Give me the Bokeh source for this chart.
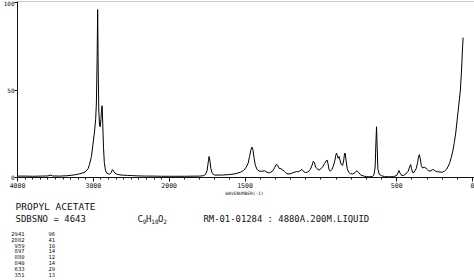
import numpy as np
from bokeh.plotting import figure
from bokeh.layouts import column
from bokeh.models import Range1d, FixedTicker, Span
from bokeh.core.properties import value
from bokeh.embed import file_html
from bokeh.resources import INLINE

# ---------------- data ----------------
wavenumber = [4000, 3900, 3800, 3700, 3600, 3560, 3540, 3450, 3350, 3250, 3200, 3150,
              3110, 3070, 3050, 3025, 3005, 2985, 2970, 2960, 2950, 2943, 2936, 2928,
              2918, 2910, 2900, 2890, 2884, 2876, 2866, 2855, 2840, 2825, 2805, 2785,
              2765, 2748, 2735, 2715, 2690, 2650, 2600, 2550, 2500, 2450, 2400, 2300,
              2200, 2100, 2000,
              1900, 1800, 1775, 1760, 1750, 1742, 1737, 1732, 1725, 1715, 1700, 1650,
              1600, 1560, 1530, 1510, 1495, 1480, 1470, 1462, 1455, 1448, 1440, 1432,
              1420, 1405, 1385, 1370, 1355, 1340, 1320, 1305, 1295, 1285, 1275, 1262,
              1252, 1240, 1225, 1210, 1195, 1175, 1160, 1150, 1135, 1125, 1115, 1100,
              1085, 1070, 1058, 1050, 1042, 1035, 1025, 1012, 1000, 985, 975, 965,
              959, 953, 946, 938, 928, 918, 908, 902, 897, 891, 886, 880, 874, 866,
              856, 849, 844, 840, 834, 826, 816, 805, 790, 775, 762, 752, 740, 720,
              700, 680, 660, 650, 642, 637, 633, 629, 624, 615, 600, 580, 550, 520,
              500, 490, 485, 478, 468, 455, 440, 425, 415, 408, 402, 395, 385, 372,
              362, 356, 351, 345, 338, 330, 318, 308, 298, 288, 275, 262, 255, 245,
              230, 215, 200, 185, 170, 160, 150, 140, 130, 120, 110, 100, 90, 80,
              72, 66, 62]
intensity = [0.8, 0.8, 0.7, 0.8, 0.9, 1.4, 0.9, 0.8, 1.0, 1.5, 1.9, 2.5,
             3.0, 5.0, 7.5, 12.0, 19.0, 26.0, 33.0, 42.0, 68.0, 96.0, 62.0, 38.0,
             30.0, 29.0, 33.0, 40.0, 41.0, 31.0, 17.0, 8.5, 4.2, 2.6, 2.1, 2.0,
             2.8, 4.5, 3.8, 2.5, 1.9, 1.5, 1.3, 1.2, 1.1, 1.0, 0.9, 0.8,
             0.8, 0.7, 0.7,
             0.7, 0.8, 1.0, 1.8, 4.0, 9.0, 12.0, 10.0, 5.0, 2.2, 1.4, 1.4,
             1.7, 2.2, 3.0, 4.0, 5.5, 8.0, 12.0, 15.5, 17.4, 16.0, 11.0, 7.0,
             4.5, 3.6, 3.6, 3.8, 3.0, 2.6, 3.5, 5.5, 7.4, 7.0, 5.2, 5.0,
             4.3, 3.5, 2.2, 2.0, 2.3, 3.0, 3.4, 3.2, 4.0, 4.6, 3.5, 2.8,
             3.2, 4.5, 7.0, 9.3, 8.5, 6.0, 5.0, 4.2, 5.0, 6.5, 8.0, 9.5,
             10.0, 8.0, 4.5, 3.6, 4.5, 6.5, 9.5, 12.5, 14.0, 12.5, 11.0, 12.0, 10.0, 7.5,
             7.0, 10.0, 13.5, 14.0, 10.0, 5.0, 3.0, 2.2, 2.0, 2.8, 3.8, 3.0, 1.6, 0.9,
             0.5, 0.4, 0.6, 1.5, 6.0, 20.0, 29.0, 18.0, 5.0, 1.8, 1.0, 0.5, 0.4, 0.5,
             1.2, 3.0, 4.0, 2.5, 1.2, 1.2, 2.0, 3.5, 6.0, 7.4, 5.0, 2.8, 3.0, 5.0,
             8.5, 12.0, 13.0, 11.0, 7.0, 5.5, 5.8, 5.5, 4.5, 3.6, 3.8, 4.5, 4.5, 3.6,
             3.3, 3.1, 3.0, 3.6, 4.8, 6.5, 8.5, 11.5, 15.0, 20.0, 26.0, 34.0, 42.0, 50.0,
             62.0, 74.0, 80.0]

x_tick_values = [4000, 3000, 2000, 1500, 500, 0]
y_tick_values = [0, 50, 100]

peak_wn = ["2941", "2882", "959", "897", "880", "840", "633", "351"]
peak_int = ["96", "41", "10", "14", "12", "14", "29", "13"]

compound = "PROPYL ACETATE"
sdbs_no = "SDBSNO = 4643"
formula_parts = [("C", False), ("9", True), ("H", False), ("10", True), ("O", False), ("2", True)]
sample_info = "RM-01-01284 : 4880A.200M.LIQUID"
x_title = "WAVENUMBER(-1)"


# SDBS Raman axis: 4000-2000 at half scale, 2000-0 at full scale
def to_u(w):
    w = np.asarray(w, dtype=float)
    return np.where(w >= 2000, (4000 - w) * 0.5, 1000 + (2000 - w))


FONT = "DejaVu Sans Mono"
INK = "#111111"

W = 474
TOP_H = 190
BOT_H = 90
FRAME_LEFT, FRAME_TOP, FRAME_BOTTOM = 16, 1, 178
X_END = 3013.0
Y_END = 100.6
UX = X_END / (W - FRAME_LEFT)

# ---------------- spectrum ----------------
p = figure(width=W, height=TOP_H, output_backend="svg", toolbar_location=None,
           x_range=Range1d(0, X_END), y_range=Range1d(0, Y_END),
           min_border_left=FRAME_LEFT, min_border_right=0, min_border_top=FRAME_TOP,
           min_border_bottom=TOP_H - FRAME_BOTTOM)
p.frame_align = False
p.background_fill_color = "white"
p.border_fill_color = "white"
p.outline_line_color = None
p.grid.visible = False

p.add_layout(Span(location=Y_END, dimension="width", line_color="#9a9a9a", line_width=1))

p.line(to_u(wavenumber), intensity, line_color="black", line_width=1)

minor = [float(v) for v in to_u(list(range(0, 4001, 100)))]
p.xaxis.ticker = FixedTicker(ticks=[float(v) for v in to_u(x_tick_values)], minor_ticks=minor)
p.xaxis.major_label_overrides = {float(u): str(w) for u, w in zip(to_u(x_tick_values), x_tick_values)}
p.xaxis.axis_line_color = INK
p.xaxis.major_tick_line_color = INK
p.xaxis.minor_tick_line_color = INK
p.xaxis.major_tick_in = 0
p.xaxis.major_tick_out = 4
p.xaxis.minor_tick_in = 0
p.xaxis.minor_tick_out = 2
p.xaxis.major_label_standoff = 1
p.xaxis.major_label_text_font = FONT
p.xaxis.major_label_text_font_size = "6.5px"
p.xaxis.major_label_text_color = INK

p.yaxis.ticker = FixedTicker(ticks=y_tick_values, minor_ticks=[])
p.yaxis.axis_line_color = INK
p.yaxis.major_tick_line_color = INK
p.yaxis.major_tick_in = 0
p.yaxis.major_tick_out = 3
p.yaxis.minor_tick_line_color = None
p.yaxis.major_label_standoff = 0
p.yaxis.major_label_text_font = FONT
p.yaxis.major_label_text_font_size = "6px"
p.yaxis.major_label_text_color = INK

# ---------------- caption panel (pixel coordinates, y downward) ----------------
t = figure(width=W, height=BOT_H, output_backend="svg", toolbar_location=None,
           x_range=Range1d(0, W), y_range=Range1d(BOT_H, 0),
           x_axis_location=None, y_axis_location=None,
           min_border=0, min_border_left=0, min_border_right=0,
           min_border_top=0, min_border_bottom=0)
t.frame_align = False
t.background_fill_color = "white"
t.border_fill_color = "white"
t.outline_line_color = None
t.grid.visible = False


def put(txt, cx, cy, size, align="left"):
    t.text(x=[cx], y=[cy - TOP_H], text=[txt], text_align=align, text_baseline="middle",
           text_font=value(FONT), text_font_size=size, text_color=INK)


x_title_px = FRAME_LEFT + float(to_u([1500])[0]) / UX
put(x_title, x_title_px, 192.5, "4.5px", align="center")
put(compound, 15, 206, "9.5px")
put(sdbs_no, 15, 218, "9px")

fx = 137.0
for part, is_sub in formula_parts:
    if is_sub:
        put(part, fx, 220.5, "6px")
        fx += 3.4 * len(part)
    else:
        put(part, fx, 218, "9px")
        fx += 5.2

put(sample_info, 203, 218, "8.9px")

for i, (w, v) in enumerate(zip(peak_wn, peak_int)):
    cy = 233 + 5.8 * i
    put(w, 24, cy, "5.5px", align="right")
    put(v, 48, cy, "5.5px", align="left")

layout = column(p, t, spacing=0)
open("out.html", "w").write(file_html(layout, INLINE))
